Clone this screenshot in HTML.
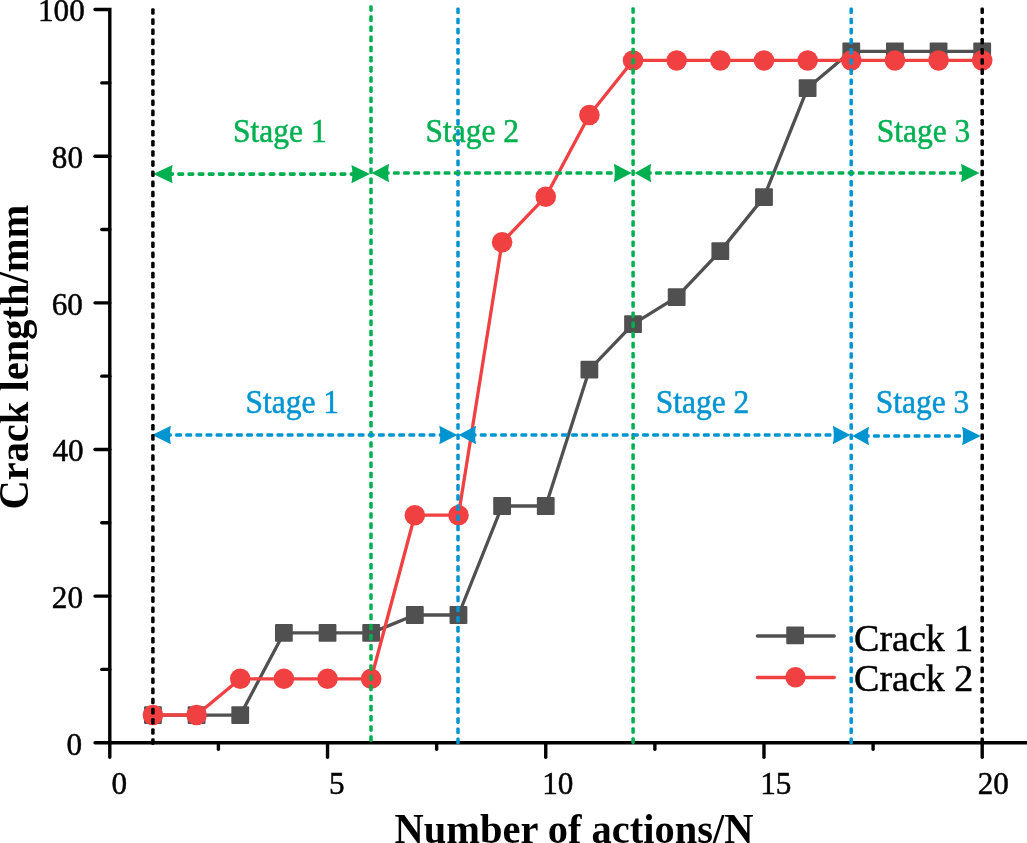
<!DOCTYPE html>
<html><head><meta charset="utf-8"><title>Crack length vs number of actions</title>
<style>html,body{margin:0;padding:0;background:#fff;} body{width:1027px;height:843px;overflow:hidden;} svg{display:block;}</style>
</head><body>
<svg width="1027" height="843" viewBox="0 0 1027 843">
<rect width="1027" height="843" fill="#ffffff"/>
<polyline points="152.94,715.15 196.59,715.15 240.24,715.15 283.88,632.90 327.53,632.90 371.17,632.90 414.82,615.00 458.46,615.00 502.11,506.00 545.75,506.00 589.39,369.65 633.04,324.10 676.68,297.20 720.33,251.10 763.98,197.05 807.62,88.10 851.26,51.30 894.91,51.30 938.56,51.30 982.20,51.30" fill="none" stroke="#505050" stroke-width="3.3" stroke-linejoin="round"/>
<g fill="#505050">
<rect x="144.04" y="706.25" width="17.8" height="17.8" rx="1"/>
<rect x="187.69" y="706.25" width="17.8" height="17.8" rx="1"/>
<rect x="231.34" y="706.25" width="17.8" height="17.8" rx="1"/>
<rect x="274.98" y="624.00" width="17.8" height="17.8" rx="1"/>
<rect x="318.63" y="624.00" width="17.8" height="17.8" rx="1"/>
<rect x="362.27" y="624.00" width="17.8" height="17.8" rx="1"/>
<rect x="405.92" y="606.10" width="17.8" height="17.8" rx="1"/>
<rect x="449.56" y="606.10" width="17.8" height="17.8" rx="1"/>
<rect x="493.21" y="497.10" width="17.8" height="17.8" rx="1"/>
<rect x="536.85" y="497.10" width="17.8" height="17.8" rx="1"/>
<rect x="580.50" y="360.75" width="17.8" height="17.8" rx="1"/>
<rect x="624.14" y="315.20" width="17.8" height="17.8" rx="1"/>
<rect x="667.78" y="288.30" width="17.8" height="17.8" rx="1"/>
<rect x="711.43" y="242.20" width="17.8" height="17.8" rx="1"/>
<rect x="755.08" y="188.15" width="17.8" height="17.8" rx="1"/>
<rect x="798.72" y="79.20" width="17.8" height="17.8" rx="1"/>
<rect x="842.37" y="42.40" width="17.8" height="17.8" rx="1"/>
<rect x="886.01" y="42.40" width="17.8" height="17.8" rx="1"/>
<rect x="929.66" y="42.40" width="17.8" height="17.8" rx="1"/>
<rect x="973.30" y="42.40" width="17.8" height="17.8" rx="1"/>
</g>
<polyline points="152.94,715.00 196.59,715.00 240.24,678.80 283.88,678.80 327.53,678.80 371.17,678.80 414.82,515.20 458.46,515.20 502.11,242.20 545.75,196.70 589.39,115.00 633.04,60.45 676.68,60.45 720.33,60.45 763.98,60.45 807.62,60.45 851.26,60.45 894.91,60.45 938.56,60.45 982.20,60.45" fill="none" stroke="#F04042" stroke-width="3.3" stroke-linejoin="round"/>
<g fill="#F04042">
<circle cx="152.94" cy="715.00" r="10.3"/>
<circle cx="196.59" cy="715.00" r="10.3"/>
<circle cx="240.24" cy="678.80" r="10.3"/>
<circle cx="283.88" cy="678.80" r="10.3"/>
<circle cx="327.53" cy="678.80" r="10.3"/>
<circle cx="371.17" cy="678.80" r="10.3"/>
<circle cx="414.82" cy="515.20" r="10.3"/>
<circle cx="458.46" cy="515.20" r="10.3"/>
<circle cx="502.11" cy="242.20" r="10.3"/>
<circle cx="545.75" cy="196.70" r="10.3"/>
<circle cx="589.39" cy="115.00" r="10.3"/>
<circle cx="633.04" cy="60.45" r="10.3"/>
<circle cx="676.68" cy="60.45" r="10.3"/>
<circle cx="720.33" cy="60.45" r="10.3"/>
<circle cx="763.98" cy="60.45" r="10.3"/>
<circle cx="807.62" cy="60.45" r="10.3"/>
<circle cx="851.26" cy="60.45" r="10.3"/>
<circle cx="894.91" cy="60.45" r="10.3"/>
<circle cx="938.56" cy="60.45" r="10.3"/>
<circle cx="982.20" cy="60.45" r="10.3"/>
</g>
<g stroke="#000000" stroke-width="3.4" stroke-linecap="round" fill="none">
<path d="M95,9.5 H109.8 V757.2" stroke-linejoin="miter"/>
<line x1="95" y1="742.7" x2="1030" y2="742.7"/>
<line x1="95" y1="596.08" x2="109.8" y2="596.08"/>
<line x1="95" y1="449.46" x2="109.8" y2="449.46"/>
<line x1="95" y1="302.84" x2="109.8" y2="302.84"/>
<line x1="95" y1="156.22" x2="109.8" y2="156.22"/>
<line x1="101.8" y1="669.39" x2="109.8" y2="669.39"/>
<line x1="101.8" y1="522.77" x2="109.8" y2="522.77"/>
<line x1="101.8" y1="376.15" x2="109.8" y2="376.15"/>
<line x1="101.8" y1="229.53" x2="109.8" y2="229.53"/>
<line x1="101.8" y1="82.91" x2="109.8" y2="82.91"/>
<line x1="327.53" y1="742.7" x2="327.53" y2="757.2"/>
<line x1="545.75" y1="742.7" x2="545.75" y2="757.2"/>
<line x1="763.98" y1="742.7" x2="763.98" y2="757.2"/>
<line x1="982.20" y1="742.7" x2="982.20" y2="757.2"/>
<line x1="218.41" y1="742.7" x2="218.41" y2="749.2"/>
<line x1="436.64" y1="742.7" x2="436.64" y2="749.2"/>
<line x1="654.86" y1="742.7" x2="654.86" y2="749.2"/>
<line x1="873.09" y1="742.7" x2="873.09" y2="749.2"/>
</g>
<g font-family="'Liberation Serif','Times New Roman',serif" font-size="32.0" fill="#000000" stroke="#000000" stroke-width="0.5">
<text transform="translate(37.95,21.00) scale(0.975,1)">100</text>
<text transform="translate(51.81,168.20) scale(0.975,1)">80</text>
<text transform="translate(51.66,314.80) scale(0.975,1)">60</text>
<text transform="translate(52.38,461.40) scale(0.975,1)">40</text>
<text transform="translate(51.83,608.20) scale(0.975,1)">20</text>
<text transform="translate(66.51,754.90) scale(0.975,1)">0</text>
<text transform="translate(111.61,793.60) scale(0.975,1)">0</text>
<text transform="translate(329.09,793.60) scale(0.975,1)">5</text>
<text transform="translate(542.15,793.60) scale(0.975,1)">10</text>
<text transform="translate(760.25,793.60) scale(0.975,1)">15</text>
<text transform="translate(977.63,793.60) scale(0.975,1)">20</text>
</g>
<g font-family="'Liberation Serif','Times New Roman',serif" font-size="32.8">
<text transform="translate(233.09,141.80) scale(0.96,1)" fill="#00B050" stroke="#00B050" stroke-width="0.5">Stage 1</text>
<text transform="translate(425.49,141.80) scale(0.96,1)" fill="#00B050" stroke="#00B050" stroke-width="0.5">Stage 2</text>
<text transform="translate(876.69,141.80) scale(0.96,1)" fill="#00B050" stroke="#00B050" stroke-width="0.5">Stage 3</text>
<text transform="translate(245.49,413.00) scale(0.96,1)" fill="#0094D1" stroke="#0094D1" stroke-width="0.5">Stage 1</text>
<text transform="translate(655.79,413.00) scale(0.96,1)" fill="#0094D1" stroke="#0094D1" stroke-width="0.5">Stage 2</text>
<text transform="translate(875.79,413.00) scale(0.96,1)" fill="#0094D1" stroke="#0094D1" stroke-width="0.5">Stage 3</text>
</g>
<g font-family="'Liberation Serif','Times New Roman',serif" font-size="38.0" fill="#000000" stroke="#000000" stroke-width="0.5">
<text transform="translate(854.04,651.10) scale(1,1)">Crack 1</text>
<text transform="translate(854.04,691.30) scale(1,1)">Crack 2</text>
</g>
<g font-family="'Liberation Serif','Times New Roman',serif" font-size="42.0" font-weight="bold" fill="#000000">
<text transform="translate(394.43,842.8) scale(0.964,1)">Number of actions/N</text>
<text transform="translate(28,509.58) rotate(-90) scale(0.964,1)">Crack length/mm</text>
</g>
<line x1="757.5" y1="636.1" x2="834.2" y2="636.1" stroke="#505050" stroke-width="3.5" stroke-linecap="round"/>
<rect x="786.25" y="626.45" width="17.8" height="17.8" rx="1" fill="#505050"/>
<line x1="757.5" y1="677.4" x2="834.2" y2="677.4" stroke="#F04042" stroke-width="3.5" stroke-linecap="round"/>
<circle cx="795.5" cy="677.3" r="10.2" fill="#F04042"/>
<g fill="#00B050"><rect x="369.25" y="5.20" width="3.5" height="6.60" rx="1.3"/><rect x="369.25" y="15.34" width="3.5" height="6.60" rx="1.3"/><rect x="369.25" y="25.48" width="3.5" height="6.60" rx="1.3"/><rect x="369.25" y="35.62" width="3.5" height="6.60" rx="1.3"/><rect x="369.25" y="45.76" width="3.5" height="6.60" rx="1.3"/><rect x="369.25" y="55.90" width="3.5" height="6.60" rx="1.3"/><rect x="369.25" y="66.04" width="3.5" height="6.60" rx="1.3"/><rect x="369.25" y="76.18" width="3.5" height="6.60" rx="1.3"/><rect x="369.25" y="86.32" width="3.5" height="6.60" rx="1.3"/><rect x="369.25" y="96.46" width="3.5" height="6.60" rx="1.3"/><rect x="369.25" y="106.60" width="3.5" height="6.60" rx="1.3"/><rect x="369.25" y="116.74" width="3.5" height="6.60" rx="1.3"/><rect x="369.25" y="126.88" width="3.5" height="6.60" rx="1.3"/><rect x="369.25" y="137.02" width="3.5" height="6.60" rx="1.3"/><rect x="369.25" y="147.16" width="3.5" height="6.60" rx="1.3"/><rect x="369.25" y="157.30" width="3.5" height="6.60" rx="1.3"/><rect x="369.25" y="167.44" width="3.5" height="6.60" rx="1.3"/><rect x="369.25" y="177.58" width="3.5" height="6.60" rx="1.3"/><rect x="369.25" y="187.72" width="3.5" height="6.60" rx="1.3"/><rect x="369.25" y="197.86" width="3.5" height="6.60" rx="1.3"/><rect x="369.25" y="208.00" width="3.5" height="6.60" rx="1.3"/><rect x="369.25" y="218.14" width="3.5" height="6.60" rx="1.3"/><rect x="369.25" y="228.28" width="3.5" height="6.60" rx="1.3"/><rect x="369.25" y="238.42" width="3.5" height="6.60" rx="1.3"/><rect x="369.25" y="248.56" width="3.5" height="6.60" rx="1.3"/><rect x="369.25" y="258.70" width="3.5" height="6.60" rx="1.3"/><rect x="369.25" y="268.84" width="3.5" height="6.60" rx="1.3"/><rect x="369.25" y="278.98" width="3.5" height="6.60" rx="1.3"/><rect x="369.25" y="289.12" width="3.5" height="6.60" rx="1.3"/><rect x="369.25" y="299.26" width="3.5" height="6.60" rx="1.3"/><rect x="369.25" y="309.40" width="3.5" height="6.60" rx="1.3"/><rect x="369.25" y="319.54" width="3.5" height="6.60" rx="1.3"/><rect x="369.25" y="329.68" width="3.5" height="6.60" rx="1.3"/><rect x="369.25" y="339.82" width="3.5" height="6.60" rx="1.3"/><rect x="369.25" y="349.96" width="3.5" height="6.60" rx="1.3"/><rect x="369.25" y="360.10" width="3.5" height="6.60" rx="1.3"/><rect x="369.25" y="370.24" width="3.5" height="6.60" rx="1.3"/><rect x="369.25" y="380.38" width="3.5" height="6.60" rx="1.3"/><rect x="369.25" y="390.52" width="3.5" height="6.60" rx="1.3"/><rect x="369.25" y="400.66" width="3.5" height="6.60" rx="1.3"/><rect x="369.25" y="410.80" width="3.5" height="6.60" rx="1.3"/><rect x="369.25" y="420.94" width="3.5" height="6.60" rx="1.3"/><rect x="369.25" y="431.08" width="3.5" height="6.60" rx="1.3"/><rect x="369.25" y="441.22" width="3.5" height="6.60" rx="1.3"/><rect x="369.25" y="451.36" width="3.5" height="6.60" rx="1.3"/><rect x="369.25" y="461.50" width="3.5" height="6.60" rx="1.3"/><rect x="369.25" y="471.64" width="3.5" height="6.60" rx="1.3"/><rect x="369.25" y="481.78" width="3.5" height="6.60" rx="1.3"/><rect x="369.25" y="491.92" width="3.5" height="6.60" rx="1.3"/><rect x="369.25" y="502.06" width="3.5" height="6.60" rx="1.3"/><rect x="369.25" y="512.20" width="3.5" height="6.60" rx="1.3"/><rect x="369.25" y="522.34" width="3.5" height="6.60" rx="1.3"/><rect x="369.25" y="532.48" width="3.5" height="6.60" rx="1.3"/><rect x="369.25" y="542.62" width="3.5" height="6.60" rx="1.3"/><rect x="369.25" y="552.76" width="3.5" height="6.60" rx="1.3"/><rect x="369.25" y="562.90" width="3.5" height="6.60" rx="1.3"/><rect x="369.25" y="573.04" width="3.5" height="6.60" rx="1.3"/><rect x="369.25" y="583.18" width="3.5" height="6.60" rx="1.3"/><rect x="369.25" y="593.32" width="3.5" height="6.60" rx="1.3"/><rect x="369.25" y="603.46" width="3.5" height="6.60" rx="1.3"/><rect x="369.25" y="613.60" width="3.5" height="6.60" rx="1.3"/><rect x="369.25" y="623.74" width="3.5" height="6.60" rx="1.3"/><rect x="369.25" y="633.88" width="3.5" height="6.60" rx="1.3"/><rect x="369.25" y="644.02" width="3.5" height="6.60" rx="1.3"/><rect x="369.25" y="654.16" width="3.5" height="6.60" rx="1.3"/><rect x="369.25" y="664.30" width="3.5" height="6.60" rx="1.3"/><rect x="369.25" y="674.44" width="3.5" height="6.60" rx="1.3"/><rect x="369.25" y="684.58" width="3.5" height="6.60" rx="1.3"/><rect x="369.25" y="694.72" width="3.5" height="6.60" rx="1.3"/><rect x="369.25" y="704.86" width="3.5" height="6.60" rx="1.3"/><rect x="369.25" y="715.00" width="3.5" height="6.60" rx="1.3"/><rect x="369.25" y="725.14" width="3.5" height="6.60" rx="1.3"/><rect x="369.25" y="735.28" width="3.5" height="6.60" rx="1.3"/></g>
<g fill="#00B050"><rect x="631.35" y="7.20" width="3.5" height="6.60" rx="1.3"/><rect x="631.35" y="17.34" width="3.5" height="6.60" rx="1.3"/><rect x="631.35" y="27.48" width="3.5" height="6.60" rx="1.3"/><rect x="631.35" y="37.62" width="3.5" height="6.60" rx="1.3"/><rect x="631.35" y="47.76" width="3.5" height="6.60" rx="1.3"/><rect x="631.35" y="57.90" width="3.5" height="6.60" rx="1.3"/><rect x="631.35" y="68.04" width="3.5" height="6.60" rx="1.3"/><rect x="631.35" y="78.18" width="3.5" height="6.60" rx="1.3"/><rect x="631.35" y="88.32" width="3.5" height="6.60" rx="1.3"/><rect x="631.35" y="98.46" width="3.5" height="6.60" rx="1.3"/><rect x="631.35" y="108.60" width="3.5" height="6.60" rx="1.3"/><rect x="631.35" y="118.74" width="3.5" height="6.60" rx="1.3"/><rect x="631.35" y="128.88" width="3.5" height="6.60" rx="1.3"/><rect x="631.35" y="139.02" width="3.5" height="6.60" rx="1.3"/><rect x="631.35" y="149.16" width="3.5" height="6.60" rx="1.3"/><rect x="631.35" y="159.30" width="3.5" height="6.60" rx="1.3"/><rect x="631.35" y="169.44" width="3.5" height="6.60" rx="1.3"/><rect x="631.35" y="179.58" width="3.5" height="6.60" rx="1.3"/><rect x="631.35" y="189.72" width="3.5" height="6.60" rx="1.3"/><rect x="631.35" y="199.86" width="3.5" height="6.60" rx="1.3"/><rect x="631.35" y="210.00" width="3.5" height="6.60" rx="1.3"/><rect x="631.35" y="220.14" width="3.5" height="6.60" rx="1.3"/><rect x="631.35" y="230.28" width="3.5" height="6.60" rx="1.3"/><rect x="631.35" y="240.42" width="3.5" height="6.60" rx="1.3"/><rect x="631.35" y="250.56" width="3.5" height="6.60" rx="1.3"/><rect x="631.35" y="260.70" width="3.5" height="6.60" rx="1.3"/><rect x="631.35" y="270.84" width="3.5" height="6.60" rx="1.3"/><rect x="631.35" y="280.98" width="3.5" height="6.60" rx="1.3"/><rect x="631.35" y="291.12" width="3.5" height="6.60" rx="1.3"/><rect x="631.35" y="301.26" width="3.5" height="6.60" rx="1.3"/><rect x="631.35" y="311.40" width="3.5" height="6.60" rx="1.3"/><rect x="631.35" y="321.54" width="3.5" height="6.60" rx="1.3"/><rect x="631.35" y="331.68" width="3.5" height="6.60" rx="1.3"/><rect x="631.35" y="341.82" width="3.5" height="6.60" rx="1.3"/><rect x="631.35" y="351.96" width="3.5" height="6.60" rx="1.3"/><rect x="631.35" y="362.10" width="3.5" height="6.60" rx="1.3"/><rect x="631.35" y="372.24" width="3.5" height="6.60" rx="1.3"/><rect x="631.35" y="382.38" width="3.5" height="6.60" rx="1.3"/><rect x="631.35" y="392.52" width="3.5" height="6.60" rx="1.3"/><rect x="631.35" y="402.66" width="3.5" height="6.60" rx="1.3"/><rect x="631.35" y="412.80" width="3.5" height="6.60" rx="1.3"/><rect x="631.35" y="422.94" width="3.5" height="6.60" rx="1.3"/><rect x="631.35" y="433.08" width="3.5" height="6.60" rx="1.3"/><rect x="631.35" y="443.22" width="3.5" height="6.60" rx="1.3"/><rect x="631.35" y="453.36" width="3.5" height="6.60" rx="1.3"/><rect x="631.35" y="463.50" width="3.5" height="6.60" rx="1.3"/><rect x="631.35" y="473.64" width="3.5" height="6.60" rx="1.3"/><rect x="631.35" y="483.78" width="3.5" height="6.60" rx="1.3"/><rect x="631.35" y="493.92" width="3.5" height="6.60" rx="1.3"/><rect x="631.35" y="504.06" width="3.5" height="6.60" rx="1.3"/><rect x="631.35" y="514.20" width="3.5" height="6.60" rx="1.3"/><rect x="631.35" y="524.34" width="3.5" height="6.60" rx="1.3"/><rect x="631.35" y="534.48" width="3.5" height="6.60" rx="1.3"/><rect x="631.35" y="544.62" width="3.5" height="6.60" rx="1.3"/><rect x="631.35" y="554.76" width="3.5" height="6.60" rx="1.3"/><rect x="631.35" y="564.90" width="3.5" height="6.60" rx="1.3"/><rect x="631.35" y="575.04" width="3.5" height="6.60" rx="1.3"/><rect x="631.35" y="585.18" width="3.5" height="6.60" rx="1.3"/><rect x="631.35" y="595.32" width="3.5" height="6.60" rx="1.3"/><rect x="631.35" y="605.46" width="3.5" height="6.60" rx="1.3"/><rect x="631.35" y="615.60" width="3.5" height="6.60" rx="1.3"/><rect x="631.35" y="625.74" width="3.5" height="6.60" rx="1.3"/><rect x="631.35" y="635.88" width="3.5" height="6.60" rx="1.3"/><rect x="631.35" y="646.02" width="3.5" height="6.60" rx="1.3"/><rect x="631.35" y="656.16" width="3.5" height="6.60" rx="1.3"/><rect x="631.35" y="666.30" width="3.5" height="6.60" rx="1.3"/><rect x="631.35" y="676.44" width="3.5" height="6.60" rx="1.3"/><rect x="631.35" y="686.58" width="3.5" height="6.60" rx="1.3"/><rect x="631.35" y="696.72" width="3.5" height="6.60" rx="1.3"/><rect x="631.35" y="706.86" width="3.5" height="6.60" rx="1.3"/><rect x="631.35" y="717.00" width="3.5" height="6.60" rx="1.3"/><rect x="631.35" y="727.14" width="3.5" height="6.60" rx="1.3"/><rect x="631.35" y="737.28" width="3.5" height="6.60" rx="1.3"/></g>
<g fill="#0094D1"><rect x="456.25" y="7.50" width="3.5" height="6.60" rx="1.3"/><rect x="456.25" y="17.64" width="3.5" height="6.60" rx="1.3"/><rect x="456.25" y="27.78" width="3.5" height="6.60" rx="1.3"/><rect x="456.25" y="37.92" width="3.5" height="6.60" rx="1.3"/><rect x="456.25" y="48.06" width="3.5" height="6.60" rx="1.3"/><rect x="456.25" y="58.20" width="3.5" height="6.60" rx="1.3"/><rect x="456.25" y="68.34" width="3.5" height="6.60" rx="1.3"/><rect x="456.25" y="78.48" width="3.5" height="6.60" rx="1.3"/><rect x="456.25" y="88.62" width="3.5" height="6.60" rx="1.3"/><rect x="456.25" y="98.76" width="3.5" height="6.60" rx="1.3"/><rect x="456.25" y="108.90" width="3.5" height="6.60" rx="1.3"/><rect x="456.25" y="119.04" width="3.5" height="6.60" rx="1.3"/><rect x="456.25" y="129.18" width="3.5" height="6.60" rx="1.3"/><rect x="456.25" y="139.32" width="3.5" height="6.60" rx="1.3"/><rect x="456.25" y="149.46" width="3.5" height="6.60" rx="1.3"/><rect x="456.25" y="159.60" width="3.5" height="6.60" rx="1.3"/><rect x="456.25" y="169.74" width="3.5" height="6.60" rx="1.3"/><rect x="456.25" y="179.88" width="3.5" height="6.60" rx="1.3"/><rect x="456.25" y="190.02" width="3.5" height="6.60" rx="1.3"/><rect x="456.25" y="200.16" width="3.5" height="6.60" rx="1.3"/><rect x="456.25" y="210.30" width="3.5" height="6.60" rx="1.3"/><rect x="456.25" y="220.44" width="3.5" height="6.60" rx="1.3"/><rect x="456.25" y="230.58" width="3.5" height="6.60" rx="1.3"/><rect x="456.25" y="240.72" width="3.5" height="6.60" rx="1.3"/><rect x="456.25" y="250.86" width="3.5" height="6.60" rx="1.3"/><rect x="456.25" y="261.00" width="3.5" height="6.60" rx="1.3"/><rect x="456.25" y="271.14" width="3.5" height="6.60" rx="1.3"/><rect x="456.25" y="281.28" width="3.5" height="6.60" rx="1.3"/><rect x="456.25" y="291.42" width="3.5" height="6.60" rx="1.3"/><rect x="456.25" y="301.56" width="3.5" height="6.60" rx="1.3"/><rect x="456.25" y="311.70" width="3.5" height="6.60" rx="1.3"/><rect x="456.25" y="321.84" width="3.5" height="6.60" rx="1.3"/><rect x="456.25" y="331.98" width="3.5" height="6.60" rx="1.3"/><rect x="456.25" y="342.12" width="3.5" height="6.60" rx="1.3"/><rect x="456.25" y="352.26" width="3.5" height="6.60" rx="1.3"/><rect x="456.25" y="362.40" width="3.5" height="6.60" rx="1.3"/><rect x="456.25" y="372.54" width="3.5" height="6.60" rx="1.3"/><rect x="456.25" y="382.68" width="3.5" height="6.60" rx="1.3"/><rect x="456.25" y="392.82" width="3.5" height="6.60" rx="1.3"/><rect x="456.25" y="402.96" width="3.5" height="6.60" rx="1.3"/><rect x="456.25" y="413.10" width="3.5" height="6.60" rx="1.3"/><rect x="456.25" y="423.24" width="3.5" height="6.60" rx="1.3"/><rect x="456.25" y="433.38" width="3.5" height="6.60" rx="1.3"/><rect x="456.25" y="443.52" width="3.5" height="6.60" rx="1.3"/><rect x="456.25" y="453.66" width="3.5" height="6.60" rx="1.3"/><rect x="456.25" y="463.80" width="3.5" height="6.60" rx="1.3"/><rect x="456.25" y="473.94" width="3.5" height="6.60" rx="1.3"/><rect x="456.25" y="484.08" width="3.5" height="6.60" rx="1.3"/><rect x="456.25" y="494.22" width="3.5" height="6.60" rx="1.3"/><rect x="456.25" y="504.36" width="3.5" height="6.60" rx="1.3"/><rect x="456.25" y="514.50" width="3.5" height="6.60" rx="1.3"/><rect x="456.25" y="524.64" width="3.5" height="6.60" rx="1.3"/><rect x="456.25" y="534.78" width="3.5" height="6.60" rx="1.3"/><rect x="456.25" y="544.92" width="3.5" height="6.60" rx="1.3"/><rect x="456.25" y="555.06" width="3.5" height="6.60" rx="1.3"/><rect x="456.25" y="565.20" width="3.5" height="6.60" rx="1.3"/><rect x="456.25" y="575.34" width="3.5" height="6.60" rx="1.3"/><rect x="456.25" y="585.48" width="3.5" height="6.60" rx="1.3"/><rect x="456.25" y="595.62" width="3.5" height="6.60" rx="1.3"/><rect x="456.25" y="605.76" width="3.5" height="6.60" rx="1.3"/><rect x="456.25" y="615.90" width="3.5" height="6.60" rx="1.3"/><rect x="456.25" y="626.04" width="3.5" height="6.60" rx="1.3"/><rect x="456.25" y="636.18" width="3.5" height="6.60" rx="1.3"/><rect x="456.25" y="646.32" width="3.5" height="6.60" rx="1.3"/><rect x="456.25" y="656.46" width="3.5" height="6.60" rx="1.3"/><rect x="456.25" y="666.60" width="3.5" height="6.60" rx="1.3"/><rect x="456.25" y="676.74" width="3.5" height="6.60" rx="1.3"/><rect x="456.25" y="686.88" width="3.5" height="6.60" rx="1.3"/><rect x="456.25" y="697.02" width="3.5" height="6.60" rx="1.3"/><rect x="456.25" y="707.16" width="3.5" height="6.60" rx="1.3"/><rect x="456.25" y="717.30" width="3.5" height="6.60" rx="1.3"/><rect x="456.25" y="727.44" width="3.5" height="6.60" rx="1.3"/><rect x="456.25" y="737.58" width="3.5" height="6.60" rx="1.3"/></g>
<g fill="#0094D1"><rect x="849.45" y="7.50" width="3.5" height="6.60" rx="1.3"/><rect x="849.45" y="17.64" width="3.5" height="6.60" rx="1.3"/><rect x="849.45" y="27.78" width="3.5" height="6.60" rx="1.3"/><rect x="849.45" y="37.92" width="3.5" height="6.60" rx="1.3"/><rect x="849.45" y="48.06" width="3.5" height="6.60" rx="1.3"/><rect x="849.45" y="58.20" width="3.5" height="6.60" rx="1.3"/><rect x="849.45" y="68.34" width="3.5" height="6.60" rx="1.3"/><rect x="849.45" y="78.48" width="3.5" height="6.60" rx="1.3"/><rect x="849.45" y="88.62" width="3.5" height="6.60" rx="1.3"/><rect x="849.45" y="98.76" width="3.5" height="6.60" rx="1.3"/><rect x="849.45" y="108.90" width="3.5" height="6.60" rx="1.3"/><rect x="849.45" y="119.04" width="3.5" height="6.60" rx="1.3"/><rect x="849.45" y="129.18" width="3.5" height="6.60" rx="1.3"/><rect x="849.45" y="139.32" width="3.5" height="6.60" rx="1.3"/><rect x="849.45" y="149.46" width="3.5" height="6.60" rx="1.3"/><rect x="849.45" y="159.60" width="3.5" height="6.60" rx="1.3"/><rect x="849.45" y="169.74" width="3.5" height="6.60" rx="1.3"/><rect x="849.45" y="179.88" width="3.5" height="6.60" rx="1.3"/><rect x="849.45" y="190.02" width="3.5" height="6.60" rx="1.3"/><rect x="849.45" y="200.16" width="3.5" height="6.60" rx="1.3"/><rect x="849.45" y="210.30" width="3.5" height="6.60" rx="1.3"/><rect x="849.45" y="220.44" width="3.5" height="6.60" rx="1.3"/><rect x="849.45" y="230.58" width="3.5" height="6.60" rx="1.3"/><rect x="849.45" y="240.72" width="3.5" height="6.60" rx="1.3"/><rect x="849.45" y="250.86" width="3.5" height="6.60" rx="1.3"/><rect x="849.45" y="261.00" width="3.5" height="6.60" rx="1.3"/><rect x="849.45" y="271.14" width="3.5" height="6.60" rx="1.3"/><rect x="849.45" y="281.28" width="3.5" height="6.60" rx="1.3"/><rect x="849.45" y="291.42" width="3.5" height="6.60" rx="1.3"/><rect x="849.45" y="301.56" width="3.5" height="6.60" rx="1.3"/><rect x="849.45" y="311.70" width="3.5" height="6.60" rx="1.3"/><rect x="849.45" y="321.84" width="3.5" height="6.60" rx="1.3"/><rect x="849.45" y="331.98" width="3.5" height="6.60" rx="1.3"/><rect x="849.45" y="342.12" width="3.5" height="6.60" rx="1.3"/><rect x="849.45" y="352.26" width="3.5" height="6.60" rx="1.3"/><rect x="849.45" y="362.40" width="3.5" height="6.60" rx="1.3"/><rect x="849.45" y="372.54" width="3.5" height="6.60" rx="1.3"/><rect x="849.45" y="382.68" width="3.5" height="6.60" rx="1.3"/><rect x="849.45" y="392.82" width="3.5" height="6.60" rx="1.3"/><rect x="849.45" y="402.96" width="3.5" height="6.60" rx="1.3"/><rect x="849.45" y="413.10" width="3.5" height="6.60" rx="1.3"/><rect x="849.45" y="423.24" width="3.5" height="6.60" rx="1.3"/><rect x="849.45" y="433.38" width="3.5" height="6.60" rx="1.3"/><rect x="849.45" y="443.52" width="3.5" height="6.60" rx="1.3"/><rect x="849.45" y="453.66" width="3.5" height="6.60" rx="1.3"/><rect x="849.45" y="463.80" width="3.5" height="6.60" rx="1.3"/><rect x="849.45" y="473.94" width="3.5" height="6.60" rx="1.3"/><rect x="849.45" y="484.08" width="3.5" height="6.60" rx="1.3"/><rect x="849.45" y="494.22" width="3.5" height="6.60" rx="1.3"/><rect x="849.45" y="504.36" width="3.5" height="6.60" rx="1.3"/><rect x="849.45" y="514.50" width="3.5" height="6.60" rx="1.3"/><rect x="849.45" y="524.64" width="3.5" height="6.60" rx="1.3"/><rect x="849.45" y="534.78" width="3.5" height="6.60" rx="1.3"/><rect x="849.45" y="544.92" width="3.5" height="6.60" rx="1.3"/><rect x="849.45" y="555.06" width="3.5" height="6.60" rx="1.3"/><rect x="849.45" y="565.20" width="3.5" height="6.60" rx="1.3"/><rect x="849.45" y="575.34" width="3.5" height="6.60" rx="1.3"/><rect x="849.45" y="585.48" width="3.5" height="6.60" rx="1.3"/><rect x="849.45" y="595.62" width="3.5" height="6.60" rx="1.3"/><rect x="849.45" y="605.76" width="3.5" height="6.60" rx="1.3"/><rect x="849.45" y="615.90" width="3.5" height="6.60" rx="1.3"/><rect x="849.45" y="626.04" width="3.5" height="6.60" rx="1.3"/><rect x="849.45" y="636.18" width="3.5" height="6.60" rx="1.3"/><rect x="849.45" y="646.32" width="3.5" height="6.60" rx="1.3"/><rect x="849.45" y="656.46" width="3.5" height="6.60" rx="1.3"/><rect x="849.45" y="666.60" width="3.5" height="6.60" rx="1.3"/><rect x="849.45" y="676.74" width="3.5" height="6.60" rx="1.3"/><rect x="849.45" y="686.88" width="3.5" height="6.60" rx="1.3"/><rect x="849.45" y="697.02" width="3.5" height="6.60" rx="1.3"/><rect x="849.45" y="707.16" width="3.5" height="6.60" rx="1.3"/><rect x="849.45" y="717.30" width="3.5" height="6.60" rx="1.3"/><rect x="849.45" y="727.44" width="3.5" height="6.60" rx="1.3"/><rect x="849.45" y="737.58" width="3.5" height="6.60" rx="1.3"/></g>
<g fill="#00B050"><rect x="167.16" y="172.30" width="6.90" height="3.6" rx="1.3"/><rect x="177.30" y="172.30" width="6.90" height="3.6" rx="1.3"/><rect x="187.44" y="172.30" width="6.90" height="3.6" rx="1.3"/><rect x="197.58" y="172.30" width="6.90" height="3.6" rx="1.3"/><rect x="207.72" y="172.30" width="6.90" height="3.6" rx="1.3"/><rect x="217.86" y="172.30" width="6.90" height="3.6" rx="1.3"/><rect x="228.00" y="172.30" width="6.90" height="3.6" rx="1.3"/><rect x="238.14" y="172.30" width="6.90" height="3.6" rx="1.3"/><rect x="248.28" y="172.30" width="6.90" height="3.6" rx="1.3"/><rect x="258.42" y="172.30" width="6.90" height="3.6" rx="1.3"/><rect x="268.56" y="172.30" width="6.90" height="3.6" rx="1.3"/><rect x="278.70" y="172.30" width="6.90" height="3.6" rx="1.3"/><rect x="288.84" y="172.30" width="6.90" height="3.6" rx="1.3"/><rect x="298.98" y="172.30" width="6.90" height="3.6" rx="1.3"/><rect x="309.12" y="172.30" width="6.90" height="3.6" rx="1.3"/><rect x="319.26" y="172.30" width="6.90" height="3.6" rx="1.3"/><rect x="329.40" y="172.30" width="6.90" height="3.6" rx="1.3"/><rect x="339.54" y="172.30" width="6.90" height="3.6" rx="1.3"/><rect x="349.68" y="172.30" width="6.90" height="3.6" rx="1.3"/><rect x="359.82" y="172.30" width="4.18" height="3.6" rx="1.3"/></g>
<path d="M153.20,174.10 L172.60,164.90 Q170.60,174.10 172.60,183.30 Z" fill="#00B050"/>
<path d="M370.00,174.10 L351.40,164.90 Q353.40,174.10 351.40,183.30 Z" fill="#00B050"/>
<g fill="#00B050"><rect x="382.76" y="171.20" width="6.90" height="3.6" rx="1.3"/><rect x="392.90" y="171.20" width="6.90" height="3.6" rx="1.3"/><rect x="403.04" y="171.20" width="6.90" height="3.6" rx="1.3"/><rect x="413.18" y="171.20" width="6.90" height="3.6" rx="1.3"/><rect x="423.32" y="171.20" width="6.90" height="3.6" rx="1.3"/><rect x="433.46" y="171.20" width="6.90" height="3.6" rx="1.3"/><rect x="443.60" y="171.20" width="6.90" height="3.6" rx="1.3"/><rect x="453.74" y="171.20" width="6.90" height="3.6" rx="1.3"/><rect x="463.88" y="171.20" width="6.90" height="3.6" rx="1.3"/><rect x="474.02" y="171.20" width="6.90" height="3.6" rx="1.3"/><rect x="484.16" y="171.20" width="6.90" height="3.6" rx="1.3"/><rect x="494.30" y="171.20" width="6.90" height="3.6" rx="1.3"/><rect x="504.44" y="171.20" width="6.90" height="3.6" rx="1.3"/><rect x="514.58" y="171.20" width="6.90" height="3.6" rx="1.3"/><rect x="524.72" y="171.20" width="6.90" height="3.6" rx="1.3"/><rect x="534.86" y="171.20" width="6.90" height="3.6" rx="1.3"/><rect x="545.00" y="171.20" width="6.90" height="3.6" rx="1.3"/><rect x="555.14" y="171.20" width="6.90" height="3.6" rx="1.3"/><rect x="565.28" y="171.20" width="6.90" height="3.6" rx="1.3"/><rect x="575.42" y="171.20" width="6.90" height="3.6" rx="1.3"/><rect x="585.56" y="171.20" width="6.90" height="3.6" rx="1.3"/><rect x="595.70" y="171.20" width="6.90" height="3.6" rx="1.3"/><rect x="605.84" y="171.20" width="6.90" height="3.6" rx="1.3"/><rect x="615.98" y="171.20" width="6.90" height="3.6" rx="1.3"/></g>
<path d="M371.60,173.00 L389.10,163.80 Q387.10,173.00 389.10,182.20 Z" fill="#00B050"/>
<path d="M631.70,173.00 L613.80,163.80 Q615.80,173.00 613.80,182.20 Z" fill="#00B050"/>
<g fill="#00B050"><rect x="644.84" y="171.20" width="6.90" height="3.6" rx="1.3"/><rect x="654.98" y="171.20" width="6.90" height="3.6" rx="1.3"/><rect x="665.12" y="171.20" width="6.90" height="3.6" rx="1.3"/><rect x="675.26" y="171.20" width="6.90" height="3.6" rx="1.3"/><rect x="685.40" y="171.20" width="6.90" height="3.6" rx="1.3"/><rect x="695.54" y="171.20" width="6.90" height="3.6" rx="1.3"/><rect x="705.68" y="171.20" width="6.90" height="3.6" rx="1.3"/><rect x="715.82" y="171.20" width="6.90" height="3.6" rx="1.3"/><rect x="725.96" y="171.20" width="6.90" height="3.6" rx="1.3"/><rect x="736.10" y="171.20" width="6.90" height="3.6" rx="1.3"/><rect x="746.24" y="171.20" width="6.90" height="3.6" rx="1.3"/><rect x="756.38" y="171.20" width="6.90" height="3.6" rx="1.3"/><rect x="766.52" y="171.20" width="6.90" height="3.6" rx="1.3"/><rect x="776.66" y="171.20" width="6.90" height="3.6" rx="1.3"/><rect x="786.80" y="171.20" width="6.90" height="3.6" rx="1.3"/><rect x="796.94" y="171.20" width="6.90" height="3.6" rx="1.3"/><rect x="807.08" y="171.20" width="6.90" height="3.6" rx="1.3"/><rect x="817.22" y="171.20" width="6.90" height="3.6" rx="1.3"/><rect x="827.36" y="171.20" width="6.90" height="3.6" rx="1.3"/><rect x="837.50" y="171.20" width="6.90" height="3.6" rx="1.3"/><rect x="847.64" y="171.20" width="6.90" height="3.6" rx="1.3"/><rect x="857.78" y="171.20" width="6.90" height="3.6" rx="1.3"/><rect x="867.92" y="171.20" width="6.90" height="3.6" rx="1.3"/><rect x="878.06" y="171.20" width="6.90" height="3.6" rx="1.3"/><rect x="888.20" y="171.20" width="6.90" height="3.6" rx="1.3"/><rect x="898.34" y="171.20" width="6.90" height="3.6" rx="1.3"/><rect x="908.48" y="171.20" width="6.90" height="3.6" rx="1.3"/><rect x="918.62" y="171.20" width="6.90" height="3.6" rx="1.3"/><rect x="928.76" y="171.20" width="6.90" height="3.6" rx="1.3"/><rect x="938.90" y="171.20" width="6.90" height="3.6" rx="1.3"/><rect x="949.04" y="171.20" width="6.90" height="3.6" rx="1.3"/><rect x="959.18" y="171.20" width="6.90" height="3.6" rx="1.3"/><rect x="969.32" y="171.20" width="4.08" height="3.6" rx="1.3"/></g>
<path d="M634.60,173.00 L651.20,163.80 Q649.20,173.00 651.20,182.20 Z" fill="#00B050"/>
<path d="M979.40,173.00 L961.00,163.80 Q963.00,173.00 961.00,182.20 Z" fill="#00B050"/>
<g fill="#0094D1"><rect x="164.96" y="433.20" width="6.90" height="3.6" rx="1.3"/><rect x="175.10" y="433.20" width="6.90" height="3.6" rx="1.3"/><rect x="185.24" y="433.20" width="6.90" height="3.6" rx="1.3"/><rect x="195.38" y="433.20" width="6.90" height="3.6" rx="1.3"/><rect x="205.52" y="433.20" width="6.90" height="3.6" rx="1.3"/><rect x="215.66" y="433.20" width="6.90" height="3.6" rx="1.3"/><rect x="225.80" y="433.20" width="6.90" height="3.6" rx="1.3"/><rect x="235.94" y="433.20" width="6.90" height="3.6" rx="1.3"/><rect x="246.08" y="433.20" width="6.90" height="3.6" rx="1.3"/><rect x="256.22" y="433.20" width="6.90" height="3.6" rx="1.3"/><rect x="266.36" y="433.20" width="6.90" height="3.6" rx="1.3"/><rect x="276.50" y="433.20" width="6.90" height="3.6" rx="1.3"/><rect x="286.64" y="433.20" width="6.90" height="3.6" rx="1.3"/><rect x="296.78" y="433.20" width="6.90" height="3.6" rx="1.3"/><rect x="306.92" y="433.20" width="6.90" height="3.6" rx="1.3"/><rect x="317.06" y="433.20" width="6.90" height="3.6" rx="1.3"/><rect x="327.20" y="433.20" width="6.90" height="3.6" rx="1.3"/><rect x="337.34" y="433.20" width="6.90" height="3.6" rx="1.3"/><rect x="347.48" y="433.20" width="6.90" height="3.6" rx="1.3"/><rect x="357.62" y="433.20" width="6.90" height="3.6" rx="1.3"/><rect x="367.76" y="433.20" width="6.90" height="3.6" rx="1.3"/><rect x="377.90" y="433.20" width="6.90" height="3.6" rx="1.3"/><rect x="388.04" y="433.20" width="6.90" height="3.6" rx="1.3"/><rect x="398.18" y="433.20" width="6.90" height="3.6" rx="1.3"/><rect x="408.32" y="433.20" width="6.90" height="3.6" rx="1.3"/><rect x="418.46" y="433.20" width="6.90" height="3.6" rx="1.3"/><rect x="428.60" y="433.20" width="6.90" height="3.6" rx="1.3"/><rect x="438.74" y="433.20" width="6.90" height="3.6" rx="1.3"/><rect x="448.88" y="433.20" width="2.52" height="3.6" rx="1.3"/></g>
<path d="M152.10,435.00 L170.90,425.80 Q168.90,435.00 170.90,444.20 Z" fill="#0094D1"/>
<path d="M457.40,435.00 L439.30,425.80 Q441.30,435.00 439.30,444.20 Z" fill="#0094D1"/>
<g fill="#0094D1"><rect x="469.66" y="433.20" width="6.90" height="3.6" rx="1.3"/><rect x="479.80" y="433.20" width="6.90" height="3.6" rx="1.3"/><rect x="489.94" y="433.20" width="6.90" height="3.6" rx="1.3"/><rect x="500.08" y="433.20" width="6.90" height="3.6" rx="1.3"/><rect x="510.22" y="433.20" width="6.90" height="3.6" rx="1.3"/><rect x="520.36" y="433.20" width="6.90" height="3.6" rx="1.3"/><rect x="530.50" y="433.20" width="6.90" height="3.6" rx="1.3"/><rect x="540.64" y="433.20" width="6.90" height="3.6" rx="1.3"/><rect x="550.78" y="433.20" width="6.90" height="3.6" rx="1.3"/><rect x="560.92" y="433.20" width="6.90" height="3.6" rx="1.3"/><rect x="571.06" y="433.20" width="6.90" height="3.6" rx="1.3"/><rect x="581.20" y="433.20" width="6.90" height="3.6" rx="1.3"/><rect x="591.34" y="433.20" width="6.90" height="3.6" rx="1.3"/><rect x="601.48" y="433.20" width="6.90" height="3.6" rx="1.3"/><rect x="611.62" y="433.20" width="6.90" height="3.6" rx="1.3"/><rect x="621.76" y="433.20" width="6.90" height="3.6" rx="1.3"/><rect x="631.90" y="433.20" width="6.90" height="3.6" rx="1.3"/><rect x="642.04" y="433.20" width="6.90" height="3.6" rx="1.3"/><rect x="652.18" y="433.20" width="6.90" height="3.6" rx="1.3"/><rect x="662.32" y="433.20" width="6.90" height="3.6" rx="1.3"/><rect x="672.46" y="433.20" width="6.90" height="3.6" rx="1.3"/><rect x="682.60" y="433.20" width="6.90" height="3.6" rx="1.3"/><rect x="692.74" y="433.20" width="6.90" height="3.6" rx="1.3"/><rect x="702.88" y="433.20" width="6.90" height="3.6" rx="1.3"/><rect x="713.02" y="433.20" width="6.90" height="3.6" rx="1.3"/><rect x="723.16" y="433.20" width="6.90" height="3.6" rx="1.3"/><rect x="733.30" y="433.20" width="6.90" height="3.6" rx="1.3"/><rect x="743.44" y="433.20" width="6.90" height="3.6" rx="1.3"/><rect x="753.58" y="433.20" width="6.90" height="3.6" rx="1.3"/><rect x="763.72" y="433.20" width="6.90" height="3.6" rx="1.3"/><rect x="773.86" y="433.20" width="6.90" height="3.6" rx="1.3"/><rect x="784.00" y="433.20" width="6.90" height="3.6" rx="1.3"/><rect x="794.14" y="433.20" width="6.90" height="3.6" rx="1.3"/><rect x="804.28" y="433.20" width="6.90" height="3.6" rx="1.3"/><rect x="814.42" y="433.20" width="6.90" height="3.6" rx="1.3"/><rect x="824.56" y="433.20" width="6.90" height="3.6" rx="1.3"/><rect x="834.70" y="433.20" width="6.90" height="3.6" rx="1.3"/></g>
<path d="M458.40,435.00 L476.10,425.80 Q474.10,435.00 476.10,444.20 Z" fill="#0094D1"/>
<path d="M850.30,435.00 L832.80,425.80 Q834.80,435.00 832.80,444.20 Z" fill="#0094D1"/>
<g fill="#0094D1"><rect x="862.86" y="434.20" width="6.90" height="3.6" rx="1.3"/><rect x="873.00" y="434.20" width="6.90" height="3.6" rx="1.3"/><rect x="883.14" y="434.20" width="6.90" height="3.6" rx="1.3"/><rect x="893.28" y="434.20" width="6.90" height="3.6" rx="1.3"/><rect x="903.42" y="434.20" width="6.90" height="3.6" rx="1.3"/><rect x="913.56" y="434.20" width="6.90" height="3.6" rx="1.3"/><rect x="923.70" y="434.20" width="6.90" height="3.6" rx="1.3"/><rect x="933.84" y="434.20" width="6.90" height="3.6" rx="1.3"/><rect x="943.98" y="434.20" width="6.90" height="3.6" rx="1.3"/><rect x="954.12" y="434.20" width="6.90" height="3.6" rx="1.3"/><rect x="964.26" y="434.20" width="6.90" height="3.6" rx="1.3"/></g>
<path d="M852.20,436.00 L869.00,426.80 Q867.00,436.00 869.00,445.20 Z" fill="#0094D1"/>
<path d="M980.80,436.00 L962.10,426.80 Q964.10,436.00 962.10,445.20 Z" fill="#0094D1"/>
<g fill="#000000"><rect x="151.15" y="8.20" width="3.5" height="6.60" rx="1.3"/><rect x="151.15" y="18.34" width="3.5" height="6.60" rx="1.3"/><rect x="151.15" y="28.48" width="3.5" height="6.60" rx="1.3"/><rect x="151.15" y="38.62" width="3.5" height="6.60" rx="1.3"/><rect x="151.15" y="48.76" width="3.5" height="6.60" rx="1.3"/><rect x="151.15" y="58.90" width="3.5" height="6.60" rx="1.3"/><rect x="151.15" y="69.04" width="3.5" height="6.60" rx="1.3"/><rect x="151.15" y="79.18" width="3.5" height="6.60" rx="1.3"/><rect x="151.15" y="89.32" width="3.5" height="6.60" rx="1.3"/><rect x="151.15" y="99.46" width="3.5" height="6.60" rx="1.3"/><rect x="151.15" y="109.60" width="3.5" height="6.60" rx="1.3"/><rect x="151.15" y="119.74" width="3.5" height="6.60" rx="1.3"/><rect x="151.15" y="129.88" width="3.5" height="6.60" rx="1.3"/><rect x="151.15" y="140.02" width="3.5" height="6.60" rx="1.3"/><rect x="151.15" y="150.16" width="3.5" height="6.60" rx="1.3"/><rect x="151.15" y="160.30" width="3.5" height="6.60" rx="1.3"/><rect x="151.15" y="170.44" width="3.5" height="6.60" rx="1.3"/><rect x="151.15" y="180.58" width="3.5" height="6.60" rx="1.3"/><rect x="151.15" y="190.72" width="3.5" height="6.60" rx="1.3"/><rect x="151.15" y="200.86" width="3.5" height="6.60" rx="1.3"/><rect x="151.15" y="211.00" width="3.5" height="6.60" rx="1.3"/><rect x="151.15" y="221.14" width="3.5" height="6.60" rx="1.3"/><rect x="151.15" y="231.28" width="3.5" height="6.60" rx="1.3"/><rect x="151.15" y="241.42" width="3.5" height="6.60" rx="1.3"/><rect x="151.15" y="251.56" width="3.5" height="6.60" rx="1.3"/><rect x="151.15" y="261.70" width="3.5" height="6.60" rx="1.3"/><rect x="151.15" y="271.84" width="3.5" height="6.60" rx="1.3"/><rect x="151.15" y="281.98" width="3.5" height="6.60" rx="1.3"/><rect x="151.15" y="292.12" width="3.5" height="6.60" rx="1.3"/><rect x="151.15" y="302.26" width="3.5" height="6.60" rx="1.3"/><rect x="151.15" y="312.40" width="3.5" height="6.60" rx="1.3"/><rect x="151.15" y="322.54" width="3.5" height="6.60" rx="1.3"/><rect x="151.15" y="332.68" width="3.5" height="6.60" rx="1.3"/><rect x="151.15" y="342.82" width="3.5" height="6.60" rx="1.3"/><rect x="151.15" y="352.96" width="3.5" height="6.60" rx="1.3"/><rect x="151.15" y="363.10" width="3.5" height="6.60" rx="1.3"/><rect x="151.15" y="373.24" width="3.5" height="6.60" rx="1.3"/><rect x="151.15" y="383.38" width="3.5" height="6.60" rx="1.3"/><rect x="151.15" y="393.52" width="3.5" height="6.60" rx="1.3"/><rect x="151.15" y="403.66" width="3.5" height="6.60" rx="1.3"/><rect x="151.15" y="413.80" width="3.5" height="6.60" rx="1.3"/><rect x="151.15" y="423.94" width="3.5" height="6.60" rx="1.3"/><rect x="151.15" y="434.08" width="3.5" height="6.60" rx="1.3"/><rect x="151.15" y="444.22" width="3.5" height="6.60" rx="1.3"/><rect x="151.15" y="454.36" width="3.5" height="6.60" rx="1.3"/><rect x="151.15" y="464.50" width="3.5" height="6.60" rx="1.3"/><rect x="151.15" y="474.64" width="3.5" height="6.60" rx="1.3"/><rect x="151.15" y="484.78" width="3.5" height="6.60" rx="1.3"/><rect x="151.15" y="494.92" width="3.5" height="6.60" rx="1.3"/><rect x="151.15" y="505.06" width="3.5" height="6.60" rx="1.3"/><rect x="151.15" y="515.20" width="3.5" height="6.60" rx="1.3"/><rect x="151.15" y="525.34" width="3.5" height="6.60" rx="1.3"/><rect x="151.15" y="535.48" width="3.5" height="6.60" rx="1.3"/><rect x="151.15" y="545.62" width="3.5" height="6.60" rx="1.3"/><rect x="151.15" y="555.76" width="3.5" height="6.60" rx="1.3"/><rect x="151.15" y="565.90" width="3.5" height="6.60" rx="1.3"/><rect x="151.15" y="576.04" width="3.5" height="6.60" rx="1.3"/><rect x="151.15" y="586.18" width="3.5" height="6.60" rx="1.3"/><rect x="151.15" y="596.32" width="3.5" height="6.60" rx="1.3"/><rect x="151.15" y="606.46" width="3.5" height="6.60" rx="1.3"/><rect x="151.15" y="616.60" width="3.5" height="6.60" rx="1.3"/><rect x="151.15" y="626.74" width="3.5" height="6.60" rx="1.3"/><rect x="151.15" y="636.88" width="3.5" height="6.60" rx="1.3"/><rect x="151.15" y="647.02" width="3.5" height="6.60" rx="1.3"/><rect x="151.15" y="657.16" width="3.5" height="6.60" rx="1.3"/><rect x="151.15" y="667.30" width="3.5" height="6.60" rx="1.3"/><rect x="151.15" y="677.44" width="3.5" height="6.60" rx="1.3"/><rect x="151.15" y="687.58" width="3.5" height="6.60" rx="1.3"/><rect x="151.15" y="697.72" width="3.5" height="6.60" rx="1.3"/><rect x="151.15" y="707.86" width="3.5" height="6.60" rx="1.3"/><rect x="151.15" y="718.00" width="3.5" height="6.60" rx="1.3"/><rect x="151.15" y="728.14" width="3.5" height="6.60" rx="1.3"/><rect x="151.15" y="738.28" width="3.5" height="6.60" rx="1.3"/></g>
<g fill="#000000"><rect x="980.45" y="7.50" width="3.5" height="6.60" rx="1.3"/><rect x="980.45" y="17.64" width="3.5" height="6.60" rx="1.3"/><rect x="980.45" y="27.78" width="3.5" height="6.60" rx="1.3"/><rect x="980.45" y="37.92" width="3.5" height="6.60" rx="1.3"/><rect x="980.45" y="48.06" width="3.5" height="6.60" rx="1.3"/><rect x="980.45" y="58.20" width="3.5" height="6.60" rx="1.3"/><rect x="980.45" y="68.34" width="3.5" height="6.60" rx="1.3"/><rect x="980.45" y="78.48" width="3.5" height="6.60" rx="1.3"/><rect x="980.45" y="88.62" width="3.5" height="6.60" rx="1.3"/><rect x="980.45" y="98.76" width="3.5" height="6.60" rx="1.3"/><rect x="980.45" y="108.90" width="3.5" height="6.60" rx="1.3"/><rect x="980.45" y="119.04" width="3.5" height="6.60" rx="1.3"/><rect x="980.45" y="129.18" width="3.5" height="6.60" rx="1.3"/><rect x="980.45" y="139.32" width="3.5" height="6.60" rx="1.3"/><rect x="980.45" y="149.46" width="3.5" height="6.60" rx="1.3"/><rect x="980.45" y="159.60" width="3.5" height="6.60" rx="1.3"/><rect x="980.45" y="169.74" width="3.5" height="6.60" rx="1.3"/><rect x="980.45" y="179.88" width="3.5" height="6.60" rx="1.3"/><rect x="980.45" y="190.02" width="3.5" height="6.60" rx="1.3"/><rect x="980.45" y="200.16" width="3.5" height="6.60" rx="1.3"/><rect x="980.45" y="210.30" width="3.5" height="6.60" rx="1.3"/><rect x="980.45" y="220.44" width="3.5" height="6.60" rx="1.3"/><rect x="980.45" y="230.58" width="3.5" height="6.60" rx="1.3"/><rect x="980.45" y="240.72" width="3.5" height="6.60" rx="1.3"/><rect x="980.45" y="250.86" width="3.5" height="6.60" rx="1.3"/><rect x="980.45" y="261.00" width="3.5" height="6.60" rx="1.3"/><rect x="980.45" y="271.14" width="3.5" height="6.60" rx="1.3"/><rect x="980.45" y="281.28" width="3.5" height="6.60" rx="1.3"/><rect x="980.45" y="291.42" width="3.5" height="6.60" rx="1.3"/><rect x="980.45" y="301.56" width="3.5" height="6.60" rx="1.3"/><rect x="980.45" y="311.70" width="3.5" height="6.60" rx="1.3"/><rect x="980.45" y="321.84" width="3.5" height="6.60" rx="1.3"/><rect x="980.45" y="331.98" width="3.5" height="6.60" rx="1.3"/><rect x="980.45" y="342.12" width="3.5" height="6.60" rx="1.3"/><rect x="980.45" y="352.26" width="3.5" height="6.60" rx="1.3"/><rect x="980.45" y="362.40" width="3.5" height="6.60" rx="1.3"/><rect x="980.45" y="372.54" width="3.5" height="6.60" rx="1.3"/><rect x="980.45" y="382.68" width="3.5" height="6.60" rx="1.3"/><rect x="980.45" y="392.82" width="3.5" height="6.60" rx="1.3"/><rect x="980.45" y="402.96" width="3.5" height="6.60" rx="1.3"/><rect x="980.45" y="413.10" width="3.5" height="6.60" rx="1.3"/><rect x="980.45" y="423.24" width="3.5" height="6.60" rx="1.3"/><rect x="980.45" y="433.38" width="3.5" height="6.60" rx="1.3"/><rect x="980.45" y="443.52" width="3.5" height="6.60" rx="1.3"/><rect x="980.45" y="453.66" width="3.5" height="6.60" rx="1.3"/><rect x="980.45" y="463.80" width="3.5" height="6.60" rx="1.3"/><rect x="980.45" y="473.94" width="3.5" height="6.60" rx="1.3"/><rect x="980.45" y="484.08" width="3.5" height="6.60" rx="1.3"/><rect x="980.45" y="494.22" width="3.5" height="6.60" rx="1.3"/><rect x="980.45" y="504.36" width="3.5" height="6.60" rx="1.3"/><rect x="980.45" y="514.50" width="3.5" height="6.60" rx="1.3"/><rect x="980.45" y="524.64" width="3.5" height="6.60" rx="1.3"/><rect x="980.45" y="534.78" width="3.5" height="6.60" rx="1.3"/><rect x="980.45" y="544.92" width="3.5" height="6.60" rx="1.3"/><rect x="980.45" y="555.06" width="3.5" height="6.60" rx="1.3"/><rect x="980.45" y="565.20" width="3.5" height="6.60" rx="1.3"/><rect x="980.45" y="575.34" width="3.5" height="6.60" rx="1.3"/><rect x="980.45" y="585.48" width="3.5" height="6.60" rx="1.3"/><rect x="980.45" y="595.62" width="3.5" height="6.60" rx="1.3"/><rect x="980.45" y="605.76" width="3.5" height="6.60" rx="1.3"/><rect x="980.45" y="615.90" width="3.5" height="6.60" rx="1.3"/><rect x="980.45" y="626.04" width="3.5" height="6.60" rx="1.3"/><rect x="980.45" y="636.18" width="3.5" height="6.60" rx="1.3"/><rect x="980.45" y="646.32" width="3.5" height="6.60" rx="1.3"/><rect x="980.45" y="656.46" width="3.5" height="6.60" rx="1.3"/><rect x="980.45" y="666.60" width="3.5" height="6.60" rx="1.3"/><rect x="980.45" y="676.74" width="3.5" height="6.60" rx="1.3"/><rect x="980.45" y="686.88" width="3.5" height="6.60" rx="1.3"/><rect x="980.45" y="697.02" width="3.5" height="6.60" rx="1.3"/><rect x="980.45" y="707.16" width="3.5" height="6.60" rx="1.3"/><rect x="980.45" y="717.30" width="3.5" height="6.60" rx="1.3"/><rect x="980.45" y="727.44" width="3.5" height="6.60" rx="1.3"/><rect x="980.45" y="737.58" width="3.5" height="6.60" rx="1.3"/></g>
</svg>
</body></html>
